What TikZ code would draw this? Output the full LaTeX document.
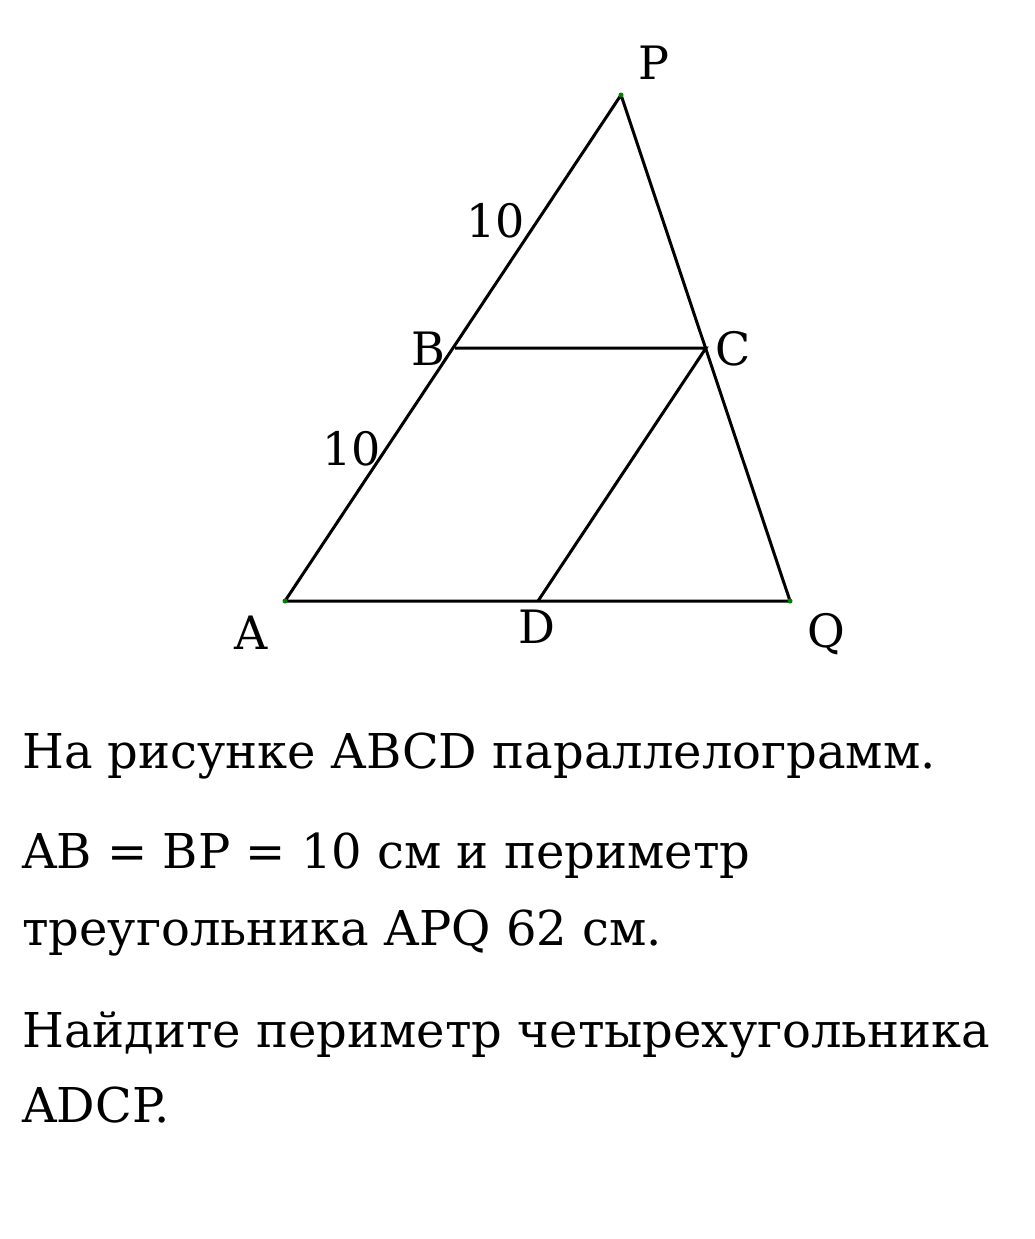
\documentclass[tikz,border=0pt]{standalone}
\usepackage{fontspec}
\setmainfont{DejaVu Serif}
\usetikzlibrary{calc}

\tikzset{
  lbl/.style={font=\fontsize{46}{52}\selectfont, inner sep=0pt},
  txt/.style={font=\fontsize{48}{54}\selectfont, anchor=base west, inner sep=0pt},
  vdot/.style={fill=green!50!black}
}

\begin{document}
\begin{tikzpicture}[x=1pt,y=-1pt]
    \useasboundingbox [fill=white] (0,0) rectangle (1034,1239);

    \coordinate (P) at (621,95);
    \coordinate (A) at (285,601);
    \coordinate (Q) at (790,601);
    \coordinate (B) at (455,348);
    \coordinate (C) at (706,348);
    \coordinate (D) at (538,601);

    \draw [line width=3pt, line join=round] (A) -- (P) -- (Q) -- cycle;
    \draw [line width=3pt] (B) -- (C) -- (D);

    \fill [vdot] (P) circle (2.5pt);
    \fill [vdot] (A) circle (2.5pt);
    \fill [vdot] (Q) circle (2.5pt);

    \node [lbl] (lP) at (654,63) {P};
    \node [lbl] (lB) at (428,349) {B};
    \node [lbl] (lC) at (733,349) {C};
    \node [lbl] (lA) at (251,633) {A};
    \node [lbl] (lD) at (537,627) {D};
    \node [lbl] (lQ) at (826,634) {Q};
    \node [lbl] (lBP) at (496,221) {10};
    \node [lbl] (lAB) at (352,449) {10};

    \node [txt] (t1) at (22,768) {На рисунке ABCD параллелограмм.};
    \node [txt] (t2) at (22,868) {AB = BP = 10 см и периметр};
    \node [txt] (t3) at (22,945) {треугольника APQ 62 см.};
    \node [txt] (t4) at (22,1047) {Найдите периметр четырехугольника};
    \node [txt] (t5) at (22,1122) {ADCP.};
  \end{tikzpicture}
\end{document}
